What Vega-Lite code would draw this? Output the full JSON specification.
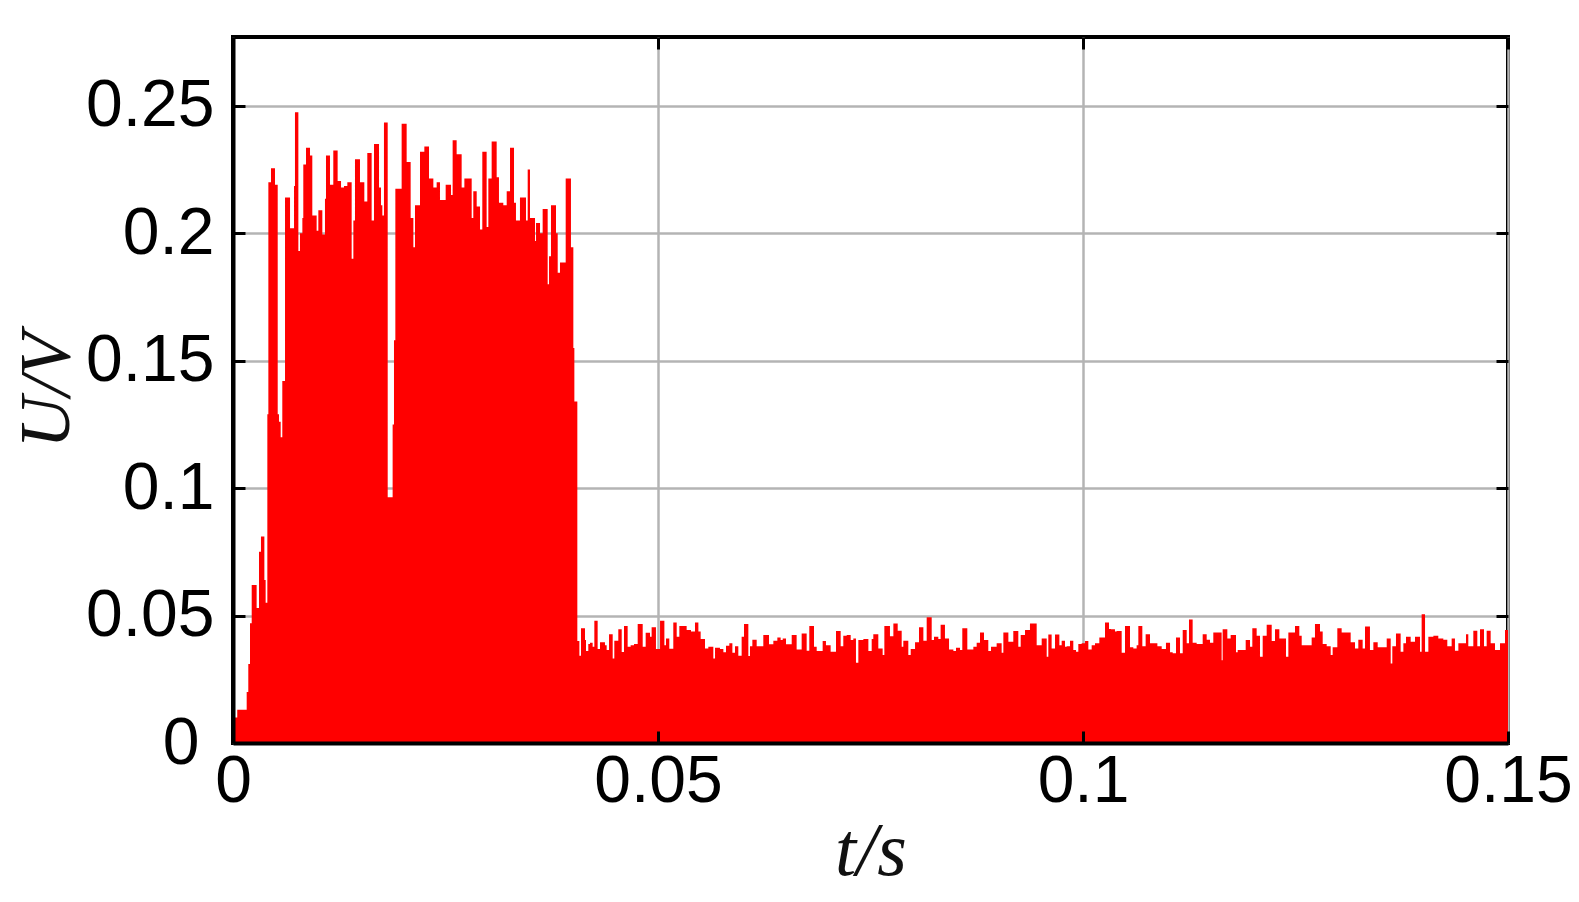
{
  "$schema": "https://vega.github.io/schema/vega-lite/v6.json",
  "width": 1275,
  "height": 706,
  "autosize": "none",
  "padding": {"left": 233, "top": 37, "right": 71, "bottom": 159},
  "background": "white",
  "config": {
    "view": {"stroke": "black", "strokeWidth": 4},
    "axis": {
      "labelFont": "Liberation Sans",
      "labelFontSize": 66,
      "labelColor": "black",
      "labelLimit": 500,
      "titleFont": "Liberation Serif",
      "titleFontStyle": "italic",
      "titleFontWeight": "normal",
      "titleFontSize": 72,
      "titleColor": "#111111",
      "domainColor": "black",
      "domainWidth": 4,
      "tickColor": "black",
      "tickWidth": 3,
      "tickSize": -12,
      "gridColor": "#b4b4b4",
      "gridWidth": 2.5,
      "gridOpacity": 1
    }
  },
  "data": {
    "values": [
      {"t": 0, "u": 0.010}, {"t": 0.0005, "u": 0.013}, {"t": 0.00161, "u": 0.020}, {"t": 0.00180, "u": 0.031},
      {"t": 0.00200, "u": 0.047}, {"t": 0.00220, "u": 0.062}, {"t": 0.00278, "u": 0.053}, {"t": 0.00306, "u": 0.075},
      {"t": 0.00329, "u": 0.081}, {"t": 0.00369, "u": 0.064}, {"t": 0.00384, "u": 0.055}, {"t": 0.00404, "u": 0.129},
      {"t": 0.00416, "u": 0.220}, {"t": 0.00447, "u": 0.2255}, {"t": 0.00494, "u": 0.219}, {"t": 0.00526, "u": 0.129},
      {"t": 0.00541, "u": 0.126}, {"t": 0.00561, "u": 0.120}, {"t": 0.00580, "u": 0.142}, {"t": 0.00612, "u": 0.214},
      {"t": 0.00671, "u": 0.202}, {"t": 0.00718, "u": 0.2185}, {"t": 0.00729, "u": 0.2475}, {"t": 0.00769, "u": 0.193},
      {"t": 0.00788, "u": 0.200}, {"t": 0.00816, "u": 0.206}, {"t": 0.00827, "u": 0.227}, {"t": 0.00859, "u": 0.2335},
      {"t": 0.00906, "u": 0.2305}, {"t": 0.00933, "u": 0.207}, {"t": 0.00984, "u": 0.201}, {"t": 0.01004, "u": 0.209},
      {"t": 0.01051, "u": 0.1995}, {"t": 0.01082, "u": 0.2135}, {"t": 0.01094, "u": 0.2305}, {"t": 0.01141, "u": 0.219},
      {"t": 0.01180, "u": 0.2325}, {"t": 0.01231, "u": 0.2205}, {"t": 0.01271, "u": 0.218}, {"t": 0.01306, "u": 0.2185},
      {"t": 0.01345, "u": 0.220}, {"t": 0.01396, "u": 0.190}, {"t": 0.01416, "u": 0.205}, {"t": 0.01435, "u": 0.229},
      {"t": 0.01494, "u": 0.220}, {"t": 0.01545, "u": 0.2125}, {"t": 0.01580, "u": 0.2315}, {"t": 0.01631, "u": 0.205},
      {"t": 0.01659, "u": 0.235}, {"t": 0.01718, "u": 0.218}, {"t": 0.01741, "u": 0.211}, {"t": 0.01757, "u": 0.207},
      {"t": 0.01776, "u": 0.2435}, {"t": 0.01820, "u": 0.0964}, {"t": 0.01878, "u": 0.125}, {"t": 0.01894, "u": 0.158},
      {"t": 0.01910, "u": 0.2175}, {"t": 0.01984, "u": 0.243}, {"t": 0.02043, "u": 0.228}, {"t": 0.02090, "u": 0.206},
      {"t": 0.02122, "u": 0.1945}, {"t": 0.02141, "u": 0.211}, {"t": 0.02200, "u": 0.232}, {"t": 0.02251, "u": 0.234},
      {"t": 0.02306, "u": 0.2215}, {"t": 0.02357, "u": 0.218}, {"t": 0.02396, "u": 0.220}, {"t": 0.02435, "u": 0.213},
      {"t": 0.02502, "u": 0.219}, {"t": 0.02565, "u": 0.215}, {"t": 0.02584, "u": 0.2365}, {"t": 0.02631, "u": 0.231},
      {"t": 0.02690, "u": 0.218}, {"t": 0.02722, "u": 0.2215}, {"t": 0.02808, "u": 0.206}, {"t": 0.02827, "u": 0.2165},
      {"t": 0.02867, "u": 0.2105}, {"t": 0.02906, "u": 0.2015}, {"t": 0.02933, "u": 0.232}, {"t": 0.02984, "u": 0.2025},
      {"t": 0.03004, "u": 0.2215}, {"t": 0.03043, "u": 0.236}, {"t": 0.03102, "u": 0.222}, {"t": 0.03129, "u": 0.212},
      {"t": 0.03180, "u": 0.211}, {"t": 0.03220, "u": 0.2165}, {"t": 0.03259, "u": 0.2335}, {"t": 0.03306, "u": 0.212},
      {"t": 0.03329, "u": 0.205}, {"t": 0.03376, "u": 0.214}, {"t": 0.03447, "u": 0.205}, {"t": 0.03467, "u": 0.225},
      {"t": 0.03494, "u": 0.206}, {"t": 0.03553, "u": 0.197}, {"t": 0.03565, "u": 0.204}, {"t": 0.03612, "u": 0.200},
      {"t": 0.03643, "u": 0.2095}, {"t": 0.03702, "u": 0.180}, {"t": 0.03718, "u": 0.191}, {"t": 0.03741, "u": 0.211},
      {"t": 0.03800, "u": 0.200}, {"t": 0.03820, "u": 0.1845}, {"t": 0.03847, "u": 0.1885}, {"t": 0.03914, "u": 0.2215},
      {"t": 0.03976, "u": 0.1945}, {"t": 0.04004, "u": 0.155}, {"t": 0.04016, "u": 0.134}, {"t": 0.04051, "u": 0.040},
      {"t": 0.04075, "u": 0.0342}, {"t": 0.04094, "u": 0.0450}, {"t": 0.04141, "u": 0.0404}, {"t": 0.04153, "u": 0.0361},
      {"t": 0.04180, "u": 0.0388}, {"t": 0.04200, "u": 0.0393}, {"t": 0.04231, "u": 0.0378}, {"t": 0.04251, "u": 0.0480},
      {"t": 0.04290, "u": 0.0369}, {"t": 0.04318, "u": 0.0395}, {"t": 0.04376, "u": 0.0384}, {"t": 0.04396, "u": 0.0365},
      {"t": 0.04424, "u": 0.0427}, {"t": 0.04467, "u": 0.0332}, {"t": 0.04486, "u": 0.0401}, {"t": 0.04533, "u": 0.0446},
      {"t": 0.04573, "u": 0.0357}, {"t": 0.04600, "u": 0.0459}, {"t": 0.04643, "u": 0.0378}, {"t": 0.04678, "u": 0.0384},
      {"t": 0.04718, "u": 0.0388}, {"t": 0.04761, "u": 0.0467}, {"t": 0.04820, "u": 0.0378}, {"t": 0.04855, "u": 0.0433},
      {"t": 0.04906, "u": 0.0417}, {"t": 0.04925, "u": 0.0454}, {"t": 0.04976, "u": 0.0369}, {"t": 0.05024, "u": 0.0480},
      {"t": 0.05075, "u": 0.0384}, {"t": 0.05094, "u": 0.0410}, {"t": 0.05133, "u": 0.0370}, {"t": 0.05180, "u": 0.0473},
      {"t": 0.05220, "u": 0.0417}, {"t": 0.05251, "u": 0.0459}, {"t": 0.05337, "u": 0.0443}, {"t": 0.05388, "u": 0.0437},
      {"t": 0.05435, "u": 0.0473}, {"t": 0.05475, "u": 0.0437}, {"t": 0.05502, "u": 0.0408}, {"t": 0.05553, "u": 0.0371},
      {"t": 0.05592, "u": 0.0378}, {"t": 0.05651, "u": 0.0332}, {"t": 0.05671, "u": 0.0374}, {"t": 0.05729, "u": 0.0369},
      {"t": 0.05769, "u": 0.0356}, {"t": 0.05800, "u": 0.0382}, {"t": 0.05839, "u": 0.0391}, {"t": 0.05875, "u": 0.0354},
      {"t": 0.05906, "u": 0.0380}, {"t": 0.05945, "u": 0.0342}, {"t": 0.05984, "u": 0.0417}, {"t": 0.06012, "u": 0.0467},
      {"t": 0.06063, "u": 0.0341}, {"t": 0.06082, "u": 0.0380}, {"t": 0.06110, "u": 0.0405}, {"t": 0.06161, "u": 0.0380},
      {"t": 0.06239, "u": 0.0424}, {"t": 0.06306, "u": 0.0387}, {"t": 0.06357, "u": 0.0401}, {"t": 0.06404, "u": 0.0414},
      {"t": 0.06443, "u": 0.0404}, {"t": 0.06467, "u": 0.0410}, {"t": 0.06506, "u": 0.0387}, {"t": 0.06573, "u": 0.0424},
      {"t": 0.06631, "u": 0.0367}, {"t": 0.06690, "u": 0.0430}, {"t": 0.06749, "u": 0.0362}, {"t": 0.06780, "u": 0.0459},
      {"t": 0.06835, "u": 0.0378}, {"t": 0.06867, "u": 0.0361}, {"t": 0.06937, "u": 0.0400}, {"t": 0.06976, "u": 0.0384},
      {"t": 0.07031, "u": 0.0358}, {"t": 0.07094, "u": 0.0439}, {"t": 0.07149, "u": 0.0380}, {"t": 0.07180, "u": 0.0421},
      {"t": 0.07220, "u": 0.0424}, {"t": 0.07267, "u": 0.0404}, {"t": 0.07298, "u": 0.0410}, {"t": 0.07329, "u": 0.0315},
      {"t": 0.07357, "u": 0.0404}, {"t": 0.07416, "u": 0.0408}, {"t": 0.07475, "u": 0.0361}, {"t": 0.07514, "u": 0.0408},
      {"t": 0.07533, "u": 0.0427}, {"t": 0.07592, "u": 0.0371}, {"t": 0.07643, "u": 0.0345}, {"t": 0.07663, "u": 0.0459},
      {"t": 0.07729, "u": 0.0419}, {"t": 0.07769, "u": 0.0469}, {"t": 0.07820, "u": 0.0440}, {"t": 0.07867, "u": 0.0378},
      {"t": 0.07886, "u": 0.0401}, {"t": 0.07945, "u": 0.0345}, {"t": 0.07973, "u": 0.0369}, {"t": 0.08024, "u": 0.0395},
      {"t": 0.08071, "u": 0.0454}, {"t": 0.08122, "u": 0.0401}, {"t": 0.08161, "u": 0.0493}, {"t": 0.08220, "u": 0.0404},
      {"t": 0.08247, "u": 0.0417}, {"t": 0.08298, "u": 0.0408}, {"t": 0.08325, "u": 0.0464}, {"t": 0.08376, "u": 0.0410},
      {"t": 0.08424, "u": 0.0367}, {"t": 0.08475, "u": 0.0361}, {"t": 0.08506, "u": 0.0374}, {"t": 0.08553, "u": 0.0365},
      {"t": 0.08580, "u": 0.0450}, {"t": 0.08639, "u": 0.0367}, {"t": 0.08710, "u": 0.0378}, {"t": 0.08749, "u": 0.0393},
      {"t": 0.08788, "u": 0.0434}, {"t": 0.08835, "u": 0.0404}, {"t": 0.08886, "u": 0.0361}, {"t": 0.08918, "u": 0.0378},
      {"t": 0.08984, "u": 0.0391}, {"t": 0.09043, "u": 0.0354}, {"t": 0.09063, "u": 0.0434}, {"t": 0.09122, "u": 0.0397},
      {"t": 0.09180, "u": 0.0439}, {"t": 0.09239, "u": 0.0378}, {"t": 0.09267, "u": 0.0424}, {"t": 0.09318, "u": 0.0443},
      {"t": 0.09376, "u": 0.0469}, {"t": 0.09455, "u": 0.0384}, {"t": 0.09514, "u": 0.0410}, {"t": 0.09573, "u": 0.0338},
      {"t": 0.09592, "u": 0.0426}, {"t": 0.09631, "u": 0.0371}, {"t": 0.09671, "u": 0.0426}, {"t": 0.09722, "u": 0.0384},
      {"t": 0.09749, "u": 0.0401}, {"t": 0.09788, "u": 0.0378}, {"t": 0.09808, "u": 0.0380}, {"t": 0.09847, "u": 0.0401},
      {"t": 0.09886, "u": 0.0365}, {"t": 0.09918, "u": 0.0358}, {"t": 0.09945, "u": 0.0388}, {"t": 0.09984, "u": 0.0391},
      {"t": 0.10024, "u": 0.0400}, {"t": 0.10063, "u": 0.0367}, {"t": 0.10102, "u": 0.0384}, {"t": 0.10141, "u": 0.0391},
      {"t": 0.10192, "u": 0.0414}, {"t": 0.10259, "u": 0.0473}, {"t": 0.10306, "u": 0.0447}, {"t": 0.10329, "u": 0.0446},
      {"t": 0.10376, "u": 0.0437}, {"t": 0.10396, "u": 0.0439}, {"t": 0.10455, "u": 0.0354}, {"t": 0.10494, "u": 0.0459},
      {"t": 0.10553, "u": 0.0376}, {"t": 0.10592, "u": 0.0371}, {"t": 0.10631, "u": 0.0384}, {"t": 0.10651, "u": 0.0459},
      {"t": 0.10698, "u": 0.0380}, {"t": 0.10737, "u": 0.0427}, {"t": 0.10788, "u": 0.0391}, {"t": 0.10875, "u": 0.0380},
      {"t": 0.10926, "u": 0.0369}, {"t": 0.10976, "u": 0.0393}, {"t": 0.11024, "u": 0.0356}, {"t": 0.11055, "u": 0.0352},
      {"t": 0.11094, "u": 0.0414}, {"t": 0.11141, "u": 0.0352}, {"t": 0.11173, "u": 0.0443}, {"t": 0.11220, "u": 0.0391},
      {"t": 0.11247, "u": 0.0485}, {"t": 0.11290, "u": 0.0393}, {"t": 0.11337, "u": 0.0388}, {"t": 0.11408, "u": 0.0427},
      {"t": 0.11455, "u": 0.0405}, {"t": 0.11494, "u": 0.0393}, {"t": 0.11533, "u": 0.0434}, {"t": 0.11631, "u": 0.0325},
      {"t": 0.11643, "u": 0.0446}, {"t": 0.11698, "u": 0.0410}, {"t": 0.11737, "u": 0.0424}, {"t": 0.11800, "u": 0.0356},
      {"t": 0.11820, "u": 0.0365}, {"t": 0.11914, "u": 0.0404}, {"t": 0.11965, "u": 0.0378}, {"t": 0.11992, "u": 0.0450},
      {"t": 0.12043, "u": 0.0421}, {"t": 0.12082, "u": 0.0338}, {"t": 0.12114, "u": 0.0421}, {"t": 0.12161, "u": 0.0464},
      {"t": 0.12220, "u": 0.0400}, {"t": 0.12259, "u": 0.0446}, {"t": 0.12310, "u": 0.0410}, {"t": 0.12388, "u": 0.0338},
      {"t": 0.12416, "u": 0.0434}, {"t": 0.12494, "u": 0.0459}, {"t": 0.12545, "u": 0.0421}, {"t": 0.12573, "u": 0.0384},
      {"t": 0.12690, "u": 0.0414}, {"t": 0.12729, "u": 0.0467}, {"t": 0.12788, "u": 0.0437}, {"t": 0.12820, "u": 0.0388},
      {"t": 0.12867, "u": 0.0380}, {"t": 0.12914, "u": 0.0345}, {"t": 0.12937, "u": 0.0376}, {"t": 0.12992, "u": 0.0450},
      {"t": 0.13043, "u": 0.0434}, {"t": 0.13149, "u": 0.0395}, {"t": 0.13200, "u": 0.0371}, {"t": 0.13239, "u": 0.0405},
      {"t": 0.13290, "u": 0.0371}, {"t": 0.13318, "u": 0.0457}, {"t": 0.13376, "u": 0.0365}, {"t": 0.13416, "u": 0.0395},
      {"t": 0.13467, "u": 0.0376}, {"t": 0.13573, "u": 0.0410}, {"t": 0.13620, "u": 0.0312}, {"t": 0.13639, "u": 0.0380},
      {"t": 0.13682, "u": 0.0430}, {"t": 0.13737, "u": 0.0358}, {"t": 0.13769, "u": 0.0391}, {"t": 0.13800, "u": 0.0417},
      {"t": 0.13855, "u": 0.0397}, {"t": 0.13906, "u": 0.0417}, {"t": 0.13965, "u": 0.0358}, {"t": 0.13984, "u": 0.0505},
      {"t": 0.14024, "u": 0.0358}, {"t": 0.14063, "u": 0.0417}, {"t": 0.14122, "u": 0.0421}, {"t": 0.14180, "u": 0.0410},
      {"t": 0.14239, "u": 0.0405}, {"t": 0.14286, "u": 0.0380}, {"t": 0.14337, "u": 0.0410}, {"t": 0.14376, "u": 0.0362},
      {"t": 0.14416, "u": 0.0391}, {"t": 0.14506, "u": 0.0427}, {"t": 0.14533, "u": 0.0380}, {"t": 0.14592, "u": 0.0440},
      {"t": 0.14639, "u": 0.0380}, {"t": 0.14671, "u": 0.0446}, {"t": 0.14718, "u": 0.0380}, {"t": 0.14749, "u": 0.0440},
      {"t": 0.14796, "u": 0.0391}, {"t": 0.14847, "u": 0.0365}, {"t": 0.14906, "u": 0.0391}, {"t": 0.14965, "u": 0.0443},
      {"t": 0.15, "u": 0.0443}
    ]
  },
  "resolve": {"axis": {"x": "independent", "y": "independent"}},
  "layer": [
    {
      "mark": {"type": "line", "opacity": 0},
      "encoding": {
        "x": {
          "field": "t", "type": "quantitative",
          "scale": {"domain": [0, 0.15], "nice": false, "zero": false},
          "axis": {"orient": "top", "values": [0, 0.05, 0.1, 0.15], "labels": false, "title": null, "grid": true, "domain": false, "zindex": 0}
        },
        "y": {
          "field": "u", "type": "quantitative",
          "scale": {"domain": [0, 0.277], "nice": false},
          "axis": {"orient": "right", "values": [0, 0.05, 0.1, 0.15, 0.2, 0.25], "labels": false, "title": null, "grid": true, "domain": false, "zindex": 0}
        }
      }
    },
    {
      "mark": {"type": "area", "interpolate": "step-after", "color": "#ff0000"},
      "encoding": {
        "x": {
          "field": "t", "type": "quantitative",
          "axis": {"orient": "bottom", "values": [0, 0.05, 0.1, 0.15], "format": ".3~g", "grid": false, "title": "t/s", "titleFontSize": 76, "labelPadding": 18, "titlePadding": 0, "labelFlush": false, "labelOverlap": false, "zindex": 1}
        },
        "y": {
          "field": "u", "type": "quantitative",
          "axis": {
            "orient": "left", "values": [0, 0.05, 0.1, 0.15, 0.2, 0.25], "format": ".3~g", "grid": false, "title": "U/V",
            "labelPadding": {"condition": {"test": "datum.value === 0", "value": 46}, "value": 31},
            "labelOverlap": false, "titlePadding": 2, "zindex": 1
          }
        }
      }
    }
  ]
}
